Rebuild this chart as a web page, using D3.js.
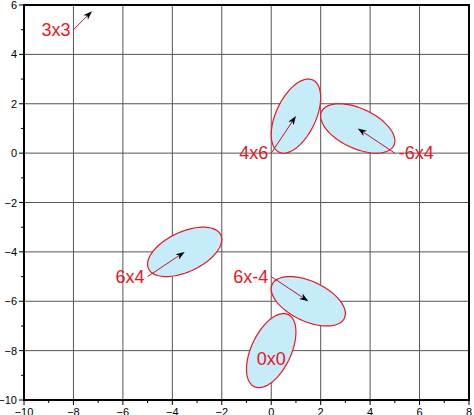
<!DOCTYPE html>
<html><head><meta charset="utf-8">
<script src="https://cdn.jsdelivr.net/npm/d3@7"></script>
<style>body{margin:0;background:#fff}</style>
</head><body>
<svg id="chart" width="474" height="415"></svg>
<script>
// station data: position, velocity, sigma, correlation, name
const lon   = [0, -8, 0, -5, 5, 0];
const lat   = [-8, 5, 0, -5, 0, -5];
const ve    = [0, 3, 4, 6, -6, 6];
const vn    = [0, 3, 6, 4, 4, -4];
const sigE  = [4, 0, 4, 6, 6, 6];
const sigN  = [6, 0, 6, 4, 4, 4];
const corr  = [0.5, 0.5, 0.5, 0.5, -0.5, -0.5];
const names = ['0x0', '3x3', '4x6', '6x4', '-6x4', '6x-4'];
const scale = 0.25;

const xTicks = d3.range(-10, 9, 2);
const yTicks = d3.range(-10, 7, 2);

const margin = {left: 24, right: 5, top: 5, bottom: 15};
const width = 474, height = 415;
const svg = d3.select('#chart');

const x = d3.scaleLinear().domain([-10, 8]).range([margin.left, width - margin.right]);
const y = d3.scaleLinear().domain([-10, 6]).range([height - margin.bottom, margin.top]);

const fmt = d => d < 0 ? '\u2212' + Math.abs(d) : String(d);

// grid
svg.append('g').selectAll('line').data(xTicks).join('line')
   .attr('x1', d => x(d)).attr('x2', d => x(d))
   .attr('y1', y(-10)).attr('y2', y(6))
   .attr('stroke', '#555').attr('stroke-width', 1);
svg.append('g').selectAll('line').data(yTicks).join('line')
   .attr('y1', d => y(d)).attr('y2', d => y(d))
   .attr('x1', x(-10)).attr('x2', x(8))
   .attr('stroke', '#555').attr('stroke-width', 1);

// ellipses, centred on the vector tips
const pts = d3.range(0, 2 * Math.PI + 0.01, Math.PI / 60);
const line = d3.line();
names.forEach((n, i) => {
    if (sigE[i] === 0 && sigN[i] === 0) return;
    const cx = lon[i] + ve[i] * scale, cy = lat[i] + vn[i] * scale;
    const hx = sigE[i] * scale, hy = sigN[i] * scale, r = corr[i];
    const path = pts.map(t => [
        x(cx + hx * Math.cos(t)),
        y(cy + hy * (r * Math.cos(t) + Math.sqrt(1 - r * r) * Math.sin(t)))
    ]);
    svg.append('path').attr('d', line(path) + 'Z')
       .attr('fill', '#c6ecfa').attr('stroke', '#e8161e').attr('stroke-width', 1.2);
});

// vectors
names.forEach((n, i) => {
    if (ve[i] === 0 && vn[i] === 0) return;
    const x0 = x(lon[i]), y0 = y(lat[i]);
    const x1 = x(lon[i] + ve[i] * scale), y1 = y(lat[i] + vn[i] * scale);
    const a = Math.atan2(y1 - y0, x1 - x0);
    const L = 9, w = 3.2;
    const bx = x1 - L * Math.cos(a), by = y1 - L * Math.sin(a);
    svg.append('line').attr('x1', x0).attr('y1', y0).attr('x2', bx + 2 * Math.cos(a)).attr('y2', by + 2 * Math.sin(a))
       .attr('stroke', '#c0161e').attr('stroke-width', 1);
    svg.append('path')
       .attr('d', `M${x1},${y1}L${bx - w * Math.sin(a)},${by + w * Math.cos(a)}L${bx + 2.5 * Math.cos(a)},${by + 2.5 * Math.sin(a)}L${bx + w * Math.sin(a)},${by - w * Math.cos(a)}Z`)
       .attr('fill', '#000');
});

// labels
names.forEach((n, i) => {
    const anchor = ve[i] > 0 ? 'end' : ve[i] < 0 ? 'start' : 'middle';
    const dx = ve[i] > 0 ? -3 : ve[i] < 0 ? 4 : 0;
    const dy = ve[i] === 0 ? 14 : 6;
    svg.append('text').attr('x', x(lon[i]) + dx).attr('y', y(lat[i]) + dy)
       .attr('text-anchor', anchor).attr('font-family', 'Liberation Sans, Arial, sans-serif')
       .attr('font-size', 18).attr('fill', '#e8161e').text(n);
});

// frame and ticks
svg.append('rect').attr('x', x(-10)).attr('y', y(6))
   .attr('width', x(8) - x(-10)).attr('height', y(-10) - y(6))
   .attr('fill', 'none').attr('stroke', '#000').attr('stroke-width', 2);

const minor = d3.range(-10, 9, 1);
svg.append('g').selectAll('line').data(minor).join('line')
   .attr('x1', d => x(d)).attr('x2', d => x(d))
   .attr('y1', y(-10)).attr('y2', d => y(-10) + (d % 2 === 0 ? 5 : 3))
   .attr('stroke', '#000');
svg.append('g').selectAll('line').data(d3.range(-10, 7, 1)).join('line')
   .attr('y1', d => y(d)).attr('y2', d => y(d))
   .attr('x1', x(-10)).attr('x2', d => x(-10) - (d % 2 === 0 ? 5 : 3))
   .attr('stroke', '#000');

svg.append('g').selectAll('text').data(xTicks).join('text')
   .attr('x', d => x(d)).attr('y', y(-10) + 16)
   .attr('text-anchor', 'middle').attr('font-family', 'Liberation Sans, Arial, sans-serif')
   .attr('font-size', 11).text(fmt);
svg.append('g').selectAll('text').data(yTicks).join('text')
   .attr('x', x(-10) - 7).attr('y', d => y(d) + 4)
   .attr('text-anchor', 'end').attr('font-family', 'Liberation Sans, Arial, sans-serif')
   .attr('font-size', 11).text(fmt);
</script>
</body></html>
